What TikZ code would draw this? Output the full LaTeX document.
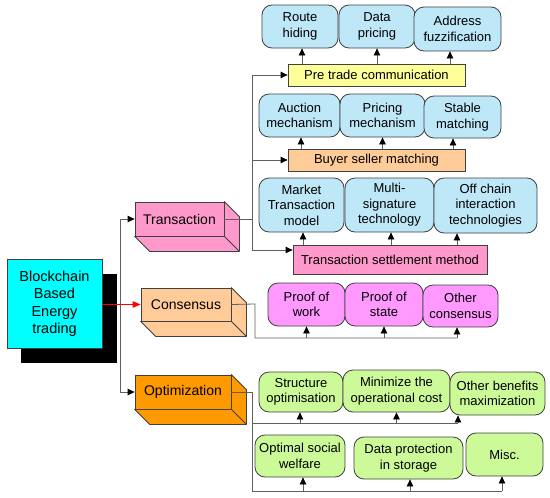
\documentclass[tikz,border=0pt]{standalone}
\usepackage{fontspec}
\setmainfont{Liberation Sans}
\usetikzlibrary{arrows.meta}
\definecolor{edge}{HTML}{404040}
\definecolor{linec}{HTML}{606060}
\definecolor{cyanbox}{HTML}{00FFFF}
\definecolor{transpink}{HTML}{FF99CC}
\definecolor{conspeach}{HTML}{FFCC99}
\definecolor{optorange}{HTML}{FF9900}
\definecolor{lblue}{RGB}{190,232,248}
\definecolor{lyellow}{HTML}{FFFF99}
\definecolor{lmagenta}{HTML}{FF99FF}
\definecolor{lgreen}{RGB}{204,250,153}
\newcommand{\extrude}[2]{%
  \filldraw[fill=#2, draw=edge, line width=0.8pt, line join=round]
    (#1.north east) -- ([shift={(15,15)}]#1.north east) -- ([shift={(15,15)}]#1.south east)
    -- ([shift={(15,15)}]#1.south west) -- (#1.south west) -- (#1.south east) -- cycle;
  \draw[draw=edge, line width=0.8pt] (#1.south east) -- ([shift={(15,15)}]#1.south east);}
\begin{document}
\begin{tikzpicture}[x=1pt,y=-1pt,
  rbox/.style={draw=edge, line width=0.8pt, rounded corners=10pt, align=center, inner sep=0pt,
    font=\fontsize{13}{15.5}\selectfont},
  flat/.style={draw=edge, line width=0.8pt, align=center, inner sep=0pt,
    font=\fontsize{13}{15.5}\selectfont},
  cube/.style={draw=edge, line width=0.8pt, inner sep=0pt, font=\fontsize{14}{16}\selectfont},
  link/.style={draw=linec, line width=0.8pt},
  arr/.style={link, -{Triangle[width=6.5pt,length=7pt,color=black]}},
  redarr/.style={draw=red, line width=0.8pt, -{Triangle[width=6.5pt,length=8pt,color=red]}}
]
\useasboundingbox (0,0) rectangle (550,498);

% main box
\fill[black] (21,274) rectangle (117,363);
\node[draw=edge, line width=0.8pt, fill=cyanbox, minimum width=95pt, minimum height=89pt,
  inner sep=0pt, align=center, font=\fontsize{14.5}{17.5}\selectfont]
  (main) at (54.5,303.5) {Blockchain\\Based\\Energy\\trading};

% 3D boxes
\node[cube, fill=transpink, minimum width=89pt, minimum height=34pt] (trans) at (179.5,219) {Transaction};
\extrude{trans}{transpink}
\node[cube, fill=conspeach, minimum width=90pt, minimum height=33pt] (cons) at (186,304.5) {Consensus};
\extrude{cons}{conspeach}
\node[cube, fill=optorange, minimum width=96pt, minimum height=34pt] (opt) at (183,392) {Optimization};
\extrude{opt}{optorange}

% spine
\coordinate (sp1) at (120,219);
\coordinate (sp2) at (120,392);
\draw[link] (sp1) -- (sp2);
\draw[arr] (sp1) -- (trans.west);
\draw[arr] (sp2) -- (opt.west);
\draw[redarr] (main.east |- cons.west) -- (cons.west);

% Transaction branch
\node[rbox, fill=lblue, minimum width=76pt, minimum height=43pt] (route) at (300,26.5) {Route\\hiding};
\node[rbox, fill=lblue, minimum width=76pt, minimum height=43pt] (datap) at (377,26.5) {Data\\pricing};
\node[rbox, fill=lblue, minimum width=87pt, minimum height=44pt] (addr) at (457.5,29) {Address\\fuzzification};
\node[flat, fill=lyellow, minimum width=177pt, minimum height=22pt] (pre) at (376.5,75) {Pre trade communication};

\node[rbox, fill=lblue, minimum width=81pt, minimum height=43pt] (auc) at (299.5,115.5) {Auction\\mechanism};
\node[rbox, fill=lblue, minimum width=85pt, minimum height=43pt] (pric) at (382.5,115.5) {Pricing\\mechanism};
\node[rbox, fill=lblue, minimum width=77pt, minimum height=42pt] (stab) at (462.5,117) {Stable\\matching};
\node[flat, fill=conspeach, minimum width=177pt, minimum height=22pt] (bsm) at (376.5,160) {Buyer seller matching};

\node[rbox, fill=lblue, minimum width=85pt, minimum height=54pt] (mkt) at (301.5,205) {Market\\Transaction\\model};
\node[rbox, fill=lblue, minimum width=89pt, minimum height=54pt] (multi) at (389.5,205) {Multi-\\signature\\technology};
\node[rbox, fill=lblue, minimum width=103pt, minimum height=55pt] (offc) at (485.5,205.5) {Off chain\\interaction\\technologies};
\node[flat, fill=transpink, minimum width=194pt, minimum height=29pt] (settle) at (390,259.5) {Transaction settlement method};

\coordinate (tb) at (252,219);
\coordinate (ttop) at (252,75);
\coordinate (tbot) at (252,250);
\draw[link] (trans.east) -- (tb);
\draw[link] (ttop) -- (tbot);
\draw[arr] (ttop) -- (pre.west);
\draw[arr] (ttop |- bsm.west) -- (bsm.west);
\draw[arr] (tbot) -- (tbot -| settle.west);

\draw[arr] ([xshift=2pt]pre.north -| route.south) -- ([xshift=2pt]route.south);
\draw[arr] (pre.north -| datap.south) -- (datap.south);
\draw[arr] ([xshift=-7.5pt]addr.south |- pre.north) -- ([xshift=-7.5pt]addr.south);
\draw[arr] ([xshift=1.5pt]auc.south |- bsm.north) -- ([xshift=1.5pt]auc.south);
\draw[arr] (pric.south |- bsm.north) -- (pric.south);
\draw[arr] ([xshift=-9.5pt]stab.south |- bsm.north) -- ([xshift=-9.5pt]stab.south);
\draw[arr] ([xshift=1.5pt]mkt.south |- settle.north) -- ([xshift=1.5pt]mkt.south);
\draw[arr] ([xshift=1.5pt]multi.south |- settle.north) -- ([xshift=1.5pt]multi.south);
\draw[arr] ([xshift=-28.5pt]offc.south |- settle.north) -- ([xshift=-28.5pt]offc.south);

% Consensus branch
\node[rbox, fill=lmagenta, minimum width=77pt, minimum height=43pt] (pow) at (306.5,304.5) {Proof of\\work};
\node[rbox, fill=lmagenta, minimum width=78pt, minimum height=43pt] (pos) at (384,304.5) {Proof of\\state};
\node[rbox, fill=lmagenta, minimum width=75pt, minimum height=42pt] (oth) at (460.5,306) {Other\\consensus};
\coordinate (cb) at (255,304);
\coordinate (cc) at (255,338);
\coordinate (ce) at (457,338);
\draw[link] (cons.east) -- (cb) -- (cc) -- (ce);
\draw[arr] (pow.south |- cc) -- (pow.south);
\draw[arr] (pos.south |- cc) -- (pos.south);
\draw[arr] (ce) -- (ce |- oth.south);

% Optimization branch
\node[rbox, fill=lgreen, minimum width=84pt, minimum height=40pt] (stru) at (301,392) {Structure\\optimisation};
\node[rbox, fill=lgreen, minimum width=107pt, minimum height=42pt] (mini) at (396.5,391) {Minimize the\\operational cost};
\node[rbox, fill=lgreen, minimum width=95pt, minimum height=43pt] (obm) at (497.5,393.5) {Other benefits\\maximization};
\node[rbox, fill=lgreen, minimum width=90pt, minimum height=42pt] (osw) at (300,456) {Optimal social\\welfare};
\node[rbox, fill=lgreen, minimum width=109pt, minimum height=42pt] (dps) at (408.5,458) {Data protection\\in storage};
\node[rbox, fill=lgreen, minimum width=77pt, minimum height=43pt] (misc) at (504.5,454.5) {Misc.};
\coordinate (ob) at (252,392);
\coordinate (om) at (252,423);
\coordinate (ome) at (458,423);
\coordinate (obt) at (252,491);
\coordinate (obe) at (502,491);
\draw[link] (opt.east) -- (ob) -- (obt) -- (obe);
\draw[link] (om) -- (ome);
\draw[arr] ([xshift=-1pt]stru.south |- om) -- ([xshift=-1pt]stru.south);
\draw[arr] (mini.south |- om) -- (mini.south);
\draw[arr] (ome) -- (ome |- obm.south);
\draw[arr] ([xshift=3pt]osw.south |- obt) -- ([xshift=3pt]osw.south);
\draw[arr] ([xshift=1.5pt]dps.south |- obt) -- ([xshift=1.5pt]dps.south);
\draw[arr] (obe) -- (obe |- misc.south);
\end{tikzpicture}
\end{document}
